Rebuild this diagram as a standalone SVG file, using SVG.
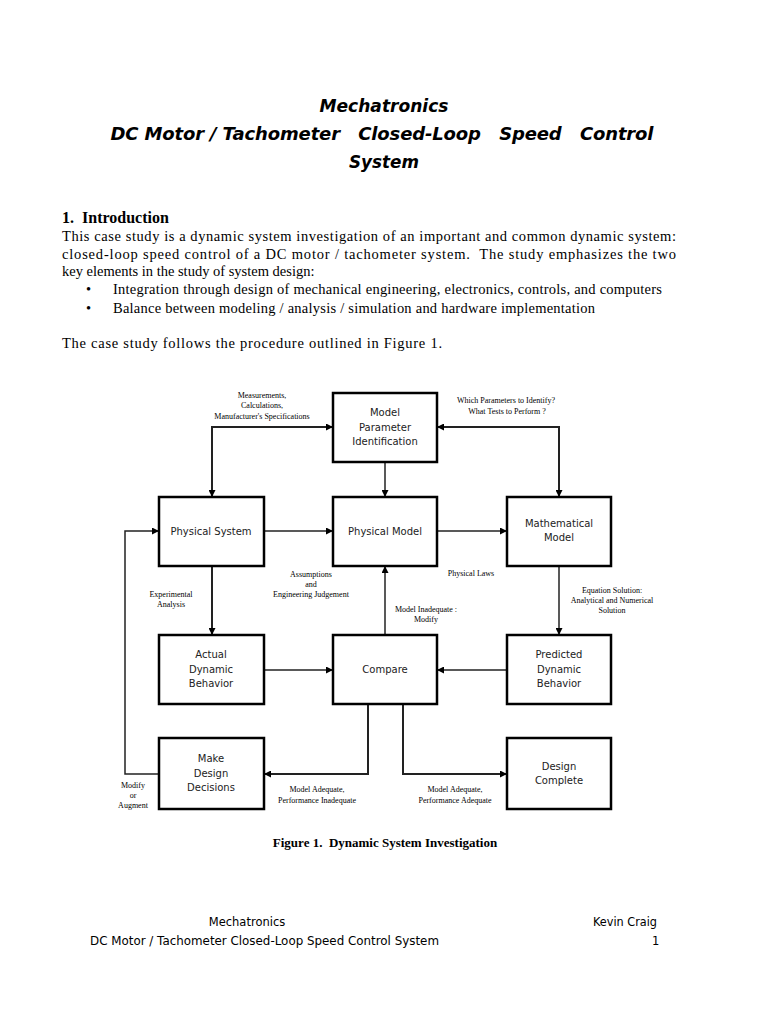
<svg xmlns="http://www.w3.org/2000/svg" width="768" height="1024" viewBox="0 0 768 1024">
<style>
.bg{fill:#ffffff}
.box{fill:#ffffff;stroke:#000;stroke-width:2.5}
.lbl{font-family:"DejaVu Sans","Liberation Sans",sans-serif;font-size:10px;fill:#222;text-anchor:middle}
.ann{font-family:"Liberation Serif",serif;font-size:8px;fill:#000;text-anchor:middle}
.con{fill:none;stroke:#222;stroke-width:1.5}
.thick{stroke-width:2}
.title{font-family:"DejaVu Sans","Liberation Sans",sans-serif;font-size:18px;font-weight:bold;font-style:italic;fill:#000;text-anchor:middle;white-space:pre}
.body{font-family:"Liberation Serif",serif;font-size:14.5px;fill:#000;white-space:pre}
.h{font-family:"Liberation Serif",serif;font-size:16px;font-weight:bold;fill:#000;white-space:pre}
.cap{font-family:"Liberation Serif",serif;font-size:13px;font-weight:bold;fill:#000;text-anchor:middle;white-space:pre}
.foot{font-family:"DejaVu Sans","Liberation Sans",sans-serif;font-size:11.5px;fill:#000}
</style>
<defs>
<marker id="arr" viewBox="0 0 10 10" refX="10" refY="5" markerWidth="8" markerHeight="7" markerUnits="userSpaceOnUse" orient="auto-start-reverse">
<path d="M0,0 L10,5 L0,10 z" fill="#000"/>
</marker>
</defs>
<rect class="bg" x="0" y="0" width="768" height="1024"/>

<g id="header">
<text class="title" x="384" y="112" textLength="129" lengthAdjust="spacingAndGlyphs">Mechatronics</text>
<text class="title" x="382" y="140" textLength="543" lengthAdjust="spacing">DC Motor / Tachometer   Closed-Loop   Speed   Control</text>
<text class="title" x="384" y="168" textLength="70" lengthAdjust="spacingAndGlyphs">System</text>
<text class="h" x="62" y="223">1.  Introduction</text>
<text class="body" x="62" y="241" textLength="614" lengthAdjust="spacing">This case study is a dynamic system investigation of an important and common dynamic system:</text>
<text class="body" x="62" y="259" textLength="614" lengthAdjust="spacing">closed-loop speed control of a DC motor / tachometer system.  The study emphasizes the two</text>
<text class="body" x="62" y="276">key elements in the study of system design:</text>
<text class="body" x="86" y="294">•</text>
<text class="body" x="113" y="294" textLength="549" lengthAdjust="spacing">Integration through design of mechanical engineering, electronics, controls, and computers</text>
<text class="body" x="86" y="313">•</text>
<text class="body" x="113" y="313" textLength="482" lengthAdjust="spacing">Balance between modeling / analysis / simulation and hardware implementation</text>
<text class="body" x="62" y="348" textLength="380" lengthAdjust="spacing">The case study follows the procedure outlined in Figure 1.</text>
</g>

<g id="connectors">
<polyline class="con thick" points="212,497 212,427 333,427" marker-start="url(#arr)" marker-end="url(#arr)"/>
<polyline class="con thick" points="437,427 559,427 559,497" marker-start="url(#arr)" marker-end="url(#arr)"/>
<line class="con" x1="385" y1="462" x2="385" y2="497" marker-end="url(#arr)"/>
<line class="con" x1="264" y1="531" x2="333" y2="531" marker-end="url(#arr)"/>
<line class="con" x1="437" y1="531" x2="507" y2="531" marker-end="url(#arr)"/>
<line class="con thick" x1="212" y1="566" x2="212" y2="635" marker-end="url(#arr)"/>
<line class="con" x1="559" y1="566" x2="559" y2="635" marker-end="url(#arr)"/>
<line class="con" x1="385" y1="635" x2="385" y2="566" marker-end="url(#arr)"/>
<line class="con" x1="264" y1="670" x2="333" y2="670" marker-end="url(#arr)"/>
<line class="con" x1="507" y1="670" x2="437" y2="670" marker-end="url(#arr)"/>
<polyline class="con thick" points="368,704 368,774 264,774" marker-end="url(#arr)"/>
<polyline class="con thick" points="403,704 403,774 507,774" marker-end="url(#arr)"/>
<polyline class="con" points="159,774 125,774 125,531 159,531" marker-end="url(#arr)"/>
<text class="ann" x="262" y="398">Measurements,</text>
<text class="ann" x="262" y="408">Calculations,</text>
<text class="ann" x="262" y="419">Manufacturer's Specifications</text>
<text class="ann" x="506" y="403">Which Parameters to Identify?</text>
<text class="ann" x="507" y="414">What Tests to Perform ?</text>
<text class="ann" x="311" y="577">Assumptions</text>
<text class="ann" x="311" y="587">and</text>
<text class="ann" x="311" y="597">Engineering Judgement</text>
<text class="ann" x="471" y="576">Physical Laws</text>
<text class="ann" x="171" y="597">Experimental</text>
<text class="ann" x="171" y="607">Analysis</text>
<text class="ann" x="426" y="612">Model Inadequate :</text>
<text class="ann" x="426" y="622">Modify</text>
<text class="ann" x="612" y="593">Equation Solution:</text>
<text class="ann" x="612" y="603">Analytical and Numerical</text>
<text class="ann" x="612" y="613">Solution</text>
<text class="ann" x="133" y="788">Modify</text>
<text class="ann" x="133" y="798">or</text>
<text class="ann" x="133" y="808">Augment</text>
<text class="ann" x="317" y="792">Model Adequate,</text>
<text class="ann" x="317" y="803">Performance Inadequate</text>
<text class="ann" x="455" y="792">Model Adequate,</text>
<text class="ann" x="455" y="803">Performance Adequate</text>
</g>

<g id="node-model-parameter-identification">
<rect class="box" x="333" y="393" width="104" height="69"/>
<text class="lbl" x="385" y="416">Model</text>
<text class="lbl" x="385" y="431">Parameter</text>
<text class="lbl" x="385" y="445">Identification</text>
</g>
<g id="node-physical-system">
<rect class="box" x="159" y="497" width="105" height="69"/>
<text class="lbl" x="211" y="535">Physical System</text>
</g>
<g id="node-physical-model">
<rect class="box" x="333" y="497" width="104" height="69"/>
<text class="lbl" x="385" y="535">Physical Model</text>
</g>
<g id="node-mathematical-model">
<rect class="box" x="507" y="497" width="104" height="69"/>
<text class="lbl" x="559" y="527">Mathematical</text>
<text class="lbl" x="559" y="541">Model</text>
</g>
<g id="node-actual-dynamic-behavior">
<rect class="box" x="159" y="635" width="105" height="69"/>
<text class="lbl" x="211" y="658">Actual</text>
<text class="lbl" x="211" y="673">Dynamic</text>
<text class="lbl" x="211" y="687">Behavior</text>
</g>
<g id="node-compare">
<rect class="box" x="333" y="635" width="104" height="69"/>
<text class="lbl" x="385" y="673">Compare</text>
</g>
<g id="node-predicted-dynamic-behavior">
<rect class="box" x="507" y="635" width="104" height="69"/>
<text class="lbl" x="559" y="658">Predicted</text>
<text class="lbl" x="559" y="673">Dynamic</text>
<text class="lbl" x="559" y="687">Behavior</text>
</g>
<g id="node-make-design-decisions">
<rect class="box" x="159" y="738" width="105" height="71"/>
<text class="lbl" x="211" y="762">Make</text>
<text class="lbl" x="211" y="777">Design</text>
<text class="lbl" x="211" y="791">Decisions</text>
</g>
<g id="node-design-complete">
<rect class="box" x="507" y="738" width="104" height="71"/>
<text class="lbl" x="559" y="770">Design</text>
<text class="lbl" x="559" y="784">Complete</text>
</g>

<g id="caption">
<text class="cap" x="385" y="847">Figure 1.  Dynamic System Investigation</text>
</g>

<g id="footer">
<text class="foot" x="247" y="926" text-anchor="middle">Mechatronics</text>
<text class="foot" x="90" y="945" textLength="349" lengthAdjust="spacingAndGlyphs">DC Motor / Tachometer Closed-Loop Speed Control System</text>
<text class="foot" x="593" y="926" textLength="64" lengthAdjust="spacingAndGlyphs">Kevin Craig</text>
<text class="foot" x="652" y="945">1</text>
</g>
</svg>
